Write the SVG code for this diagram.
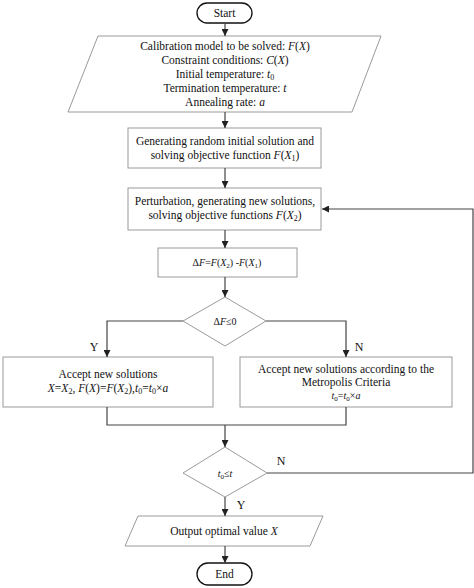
<svg xmlns="http://www.w3.org/2000/svg" width="474" height="588" viewBox="0 0 474 588">
<style>
  text { font-family: "Liberation Serif", "Times New Roman", serif; font-size: 11.5px; fill: #111; text-anchor: middle; }
  .sm { font-size: 10px; }
  .i { font-style: italic; }
  .box { fill: #fff; stroke: #9a9a9a; stroke-width: 1; }
  .term { fill: #fff; stroke: #111; stroke-width: 1.3; }
  .conn { fill: none; stroke: #444; stroke-width: 1.2; }
  .lbl { font-size: 12px; }
</style>
<defs>
  <marker id="arr" viewBox="0 0 10 10" refX="10" refY="5" markerWidth="7" markerHeight="7" orient="auto" markerUnits="userSpaceOnUse">
    <path d="M0,0 L10,5 L0,10 z" fill="#222"/>
  </marker>
</defs>
<rect width="474" height="588" fill="#fff"/>

<g id="start">
  <rect class="term" x="197" y="3" width="55" height="20" rx="10" ry="10"/>
  <text x="224.5" y="17">Start</text>
</g>

<g id="input">
  <polygon class="box" points="98,36 381,36 352,112 68,112"/>
  <text x="225" y="50">Calibration model to be solved: <tspan class="i">F</tspan>(<tspan class="i">X</tspan>)</text>
  <text x="225" y="64">Constraint conditions: <tspan class="i">C</tspan>(<tspan class="i">X</tspan>)</text>
  <text x="225" y="78">Initial temperature: <tspan class="i">t</tspan><tspan font-size="8" dy="2">0</tspan></text>
  <text x="225" y="92">Termination temperature: <tspan class="i">t</tspan></text>
  <text x="225" y="106">Annealing rate: <tspan class="i">a</tspan></text>
</g>

<g id="init">
  <rect class="box" x="128" y="128" width="193" height="40"/>
  <text x="225" y="145">Generating random initial solution and</text>
  <text x="225" y="159">solving objective function <tspan class="i">F</tspan>(<tspan class="i">X</tspan><tspan font-size="8" dy="2">1</tspan><tspan dy="-2">)</tspan></text>
</g>

<g id="perturb">
  <rect class="box" x="128" y="188" width="193" height="42"/>
  <text x="225" y="205">Perturbation, generating new solutions,</text>
  <text x="225" y="219">solving objective functions <tspan class="i">F</tspan>(<tspan class="i">X</tspan><tspan font-size="8" dy="2">2</tspan><tspan dy="-2">)</tspan></text>
</g>

<g id="delta">
  <rect class="box" x="158" y="248" width="139" height="29"/>
  <text class="sm" x="227" y="266">Δ<tspan class="i">F</tspan>=<tspan class="i">F</tspan>(<tspan class="i">X</tspan><tspan font-size="7" dy="2">2</tspan><tspan dy="-2">) -</tspan><tspan class="i">F</tspan>(<tspan class="i">X</tspan><tspan font-size="7" dy="2">1</tspan><tspan dy="-2">)</tspan></text>
</g>

<g id="cond1">
  <polygon class="box" points="225,297 266,321 225,346 183,321"/>
  <text class="sm" x="225" y="325">Δ<tspan class="i">F</tspan>≤0</text>
</g>

<g id="acceptY">
  <rect class="box" x="3" y="357" width="210" height="50"/>
  <text x="108" y="378">Accept new solutions</text>
  <text x="108" y="392"><tspan class="i">X</tspan>=<tspan class="i">X</tspan><tspan font-size="8" dy="2">2</tspan><tspan dy="-2">, </tspan><tspan class="i">F</tspan>(<tspan class="i">X</tspan>)=<tspan class="i">F</tspan>(<tspan class="i">X</tspan><tspan font-size="8" dy="2">2</tspan><tspan dy="-2">),</tspan><tspan class="i">t</tspan><tspan font-size="8" dy="2">0</tspan><tspan dy="-2">=</tspan><tspan class="i">t</tspan><tspan font-size="8" dy="2">0</tspan><tspan dy="-2">×</tspan><tspan class="i">a</tspan></text>
</g>

<g id="acceptN">
  <rect class="box" x="240" y="357" width="212" height="50"/>
  <text x="346" y="373">Accept new solutions according to the</text>
  <text x="346" y="386">Metropolis Criteria</text>
  <text class="sm" x="346" y="399"><tspan class="i">t</tspan><tspan font-size="7" dy="2">0</tspan><tspan dy="-2">=</tspan><tspan class="i">t</tspan><tspan font-size="7" dy="2">0</tspan><tspan dy="-2">×</tspan><tspan class="i">a</tspan></text>
</g>

<g id="cond2">
  <polygon class="box" points="225,447 267,473 225,497 183,473"/>
  <text class="sm" x="225" y="477"><tspan class="i">t</tspan><tspan font-size="7" dy="2">0</tspan><tspan dy="-2">≤</tspan><tspan class="i">t</tspan></text>
</g>

<g id="output">
  <polygon class="box" points="138,516 323,516 310,546 125,546"/>
  <text x="224" y="535">Output optimal value <tspan class="i">X</tspan></text>
</g>

<g id="end">
  <rect class="term" x="197" y="563" width="55" height="22" rx="11" ry="11"/>
  <text x="224.5" y="578">End</text>
</g>

<g id="connectors">
  <line class="conn" x1="225" y1="23" x2="225" y2="36" marker-end="url(#arr)"/>
  <line class="conn" x1="225" y1="112" x2="225" y2="128" marker-end="url(#arr)"/>
  <line class="conn" x1="225" y1="168" x2="225" y2="188" marker-end="url(#arr)"/>
  <line class="conn" x1="225" y1="230" x2="225" y2="248" marker-end="url(#arr)"/>
  <line class="conn" x1="225" y1="277" x2="225" y2="297" marker-end="url(#arr)"/>
  <polyline class="conn" points="183,321 107,321 107,357" marker-end="url(#arr)"/>
  <polyline class="conn" points="266,321 346,321 346,357" marker-end="url(#arr)"/>
  <polyline class="conn" points="107,407 107,425 346,425 346,407"/>
  <line class="conn" x1="225" y1="425" x2="225" y2="447" marker-end="url(#arr)"/>
  <polyline class="conn" points="267,473 473,473 473,209 322,209" marker-end="url(#arr)"/>
  <line class="conn" x1="225" y1="497" x2="225" y2="516" marker-end="url(#arr)"/>
  <line class="conn" x1="225" y1="546" x2="225" y2="563" marker-end="url(#arr)"/>
  <text class="lbl" x="94" y="351">Y</text>
  <text class="lbl" x="359" y="351">N</text>
  <text class="lbl" x="281" y="465">N</text>
  <text class="lbl" x="241" y="509">Y</text>
</g>
</svg>
